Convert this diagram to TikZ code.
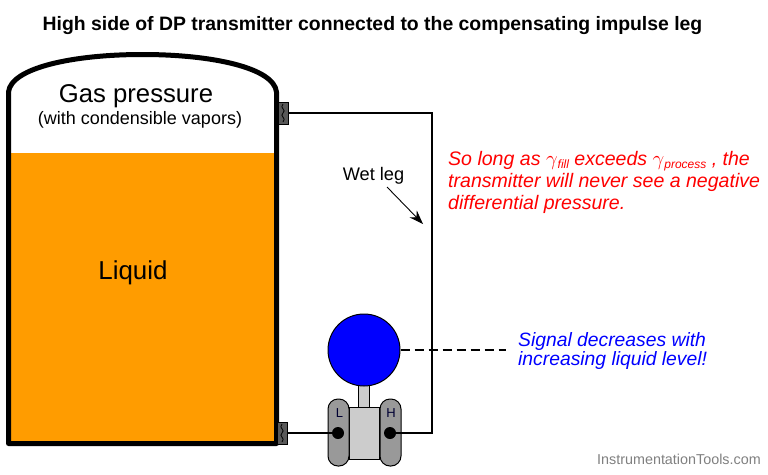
\documentclass[tikz,border=0pt]{standalone}
\usepackage{fontspec}
\setmainfont{Liberation Sans}
\usetikzlibrary{arrows.meta}
\definecolor{liq}{HTML}{FF9C00}
\newcommand{\fs}[1]{\fontsize{#1}{#1}\selectfont}
\tikzset{
  x=1pt,y=-1pt,
  txt/.style={inner sep=0pt,anchor=base west,align=left},
  fit box/.style={draw=black,fill=black!65,line width=1pt,minimum width=10pt,minimum height=22pt,inner sep=0pt},
  capsule/.style={draw=black,fill=black!40,line width=1pt,rounded corners=10pt},
  body/.style={draw=black,fill=black!20,line width=1pt},
  port/.style={circle,fill=black,minimum size=12pt,inner sep=0pt},
  pipe/.style={line width=1.6pt,line join=miter},
  squig/.style={line width=.8pt,black},
}
\begin{document}
\begin{tikzpicture}
\useasboundingbox (0,0) rectangle (768,474);
\fill[white] (0,0) rectangle (768,474);
% vessel
\path[fill=white] (8.5,443.5) -- (8.5,92) .. controls (11,68) and (72,54.5) .. (142.5,54.5) .. controls (213,54.5) and (274,68) .. (276.5,92) -- (276.5,443.5) -- cycle;
\fill[liq] (8.5,153) rectangle (276.5,443.5);
\draw[line width=5pt,line join=round] (8.5,443.5) -- (8.5,92) .. controls (11,68) and (72,54.5) .. (142.5,54.5) .. controls (213,54.5) and (274,68) .. (276.5,92) -- (276.5,443.5) -- cycle;
% fittings
\node[fit box] (upfit) at (283,113) {};
\node[fit box] (lowfit) at (282,433) {};
\draw[squig] (283,104) .. controls (279,108) and (287,110) .. (283,113) .. controls (279,116) and (287,118) .. (283,122);
\draw[squig] (282,424) .. controls (278,428) and (286,430) .. (282,433) .. controls (278,436) and (286,438) .. (282,442);
% transmitter
\node[draw=black,fill=black!20,line width=1pt,minimum width=11pt,minimum height=22pt,inner sep=0pt] (neck) at (363.5,396) {};
\node[body,minimum width=30pt,minimum height=52pt,inner sep=0pt] (core) at (364,433) {};
\draw[capsule] (328,399) rectangle (349,466);
\draw[capsule] (380,399) rectangle (401,466);
\node[circle,draw=black,fill=blue,line width=1pt,minimum size=72pt,inner sep=0pt] (gauge) at (364,350) {};
\node[port] (lport) at (338,433) {};
\node[port] (hport) at (390,433) {};
\node[inner sep=0pt,text=black!80!blue] (ltext) at (339.5,413.5) {\fs{13}L};
\node[inner sep=0pt,text=black!80!blue] (htext) at (391,413.5) {\fs{13}H};
% impulse lines
\coordinate (c1) at (432,113);
\coordinate (c2) at (432,433);
\draw[pipe] (upfit.east) -- (c1) -- (c2) -- (hport.center);
\draw[pipe] (lowfit.east) -- (lport.center);
% signal
\coordinate (sig) at (506,350);
\draw[line width=1.5pt,dash pattern=on 9pt off 5pt] (gauge.east) -- (sig);
% wet leg
\coordinate (w1) at (387,187);
\coordinate (w2) at (423,224);
\draw[line width=.9pt,-{Stealth[length=14pt,width=10pt]}] (w1) -- (w2);
% texts
\node[txt,anchor=base] (title) at (372.5,30) {\fs{19.4}\bfseries High side of DP transmitter connected to the compensating impulse leg};
\node[txt,anchor=base] (gas) at (136,102) {\fs{25.7}Gas pressure};
\node[txt,anchor=base] (vap) at (140,124) {\fs{18}(with condensible vapors)};
\node[txt,anchor=base] (liquid) at (133,279) {\fs{25.9}Liquid};
\node[txt,anchor=base] (wet) at (373.5,180) {\fs{18.2}Wet leg};
\node[txt,text=red] (l1) at (448,165) {\fs{19.55}\itshape So long as $\gamma$\raisebox{-3pt}{\fs{12}fill} exceeds $\gamma$\raisebox{-3pt}{\fs{12}process} , the};
\node[txt,text=red] (l2) at (448,187) {\fs{19.55}\itshape transmitter will never see a negative};
\node[txt,text=red] (l3) at (448,209) {\fs{19.55}\itshape differential pressure.};
\node[txt,text=blue] (s1) at (518,346) {\fs{19.3}\itshape Signal decreases with};
\node[txt,text=blue] (s2) at (518,365) {\fs{19.3}\itshape increasing liquid level!};
\node[txt,text=black!50] (wm) at (597,464) {\fs{14.35}InstrumentationTools.com};
\end{tikzpicture}
\end{document}
